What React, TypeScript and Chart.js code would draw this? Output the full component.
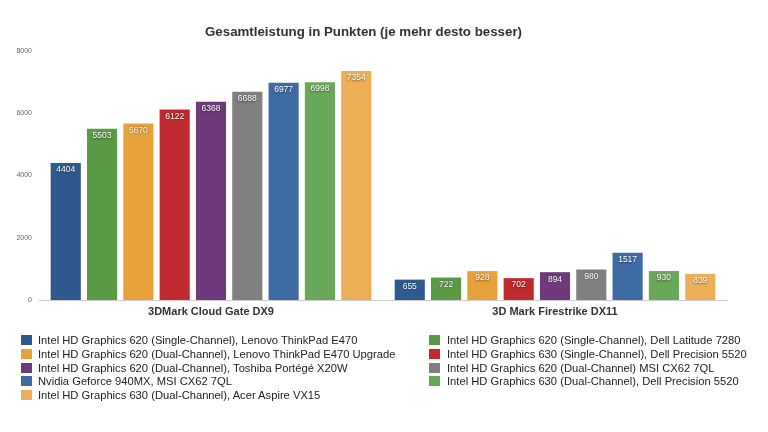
import React, { useEffect, useRef } from "react";
import { Chart, registerables } from "chart.js";

Chart.register(...registerables);

const chartTitle = "Gesamtleistung in Punkten (je mehr desto besser)";
const categories = ["3DMark Cloud Gate DX9", "3D Mark Firestrike DX11"];
const seriesNames = [
  "Intel HD Graphics 620 (Single-Channel), Lenovo ThinkPad E470",
  "Intel HD Graphics 620 (Single-Channel), Dell Latitude 7280",
  "Intel HD Graphics 620 (Dual-Channel), Lenovo ThinkPad E470 Upgrade",
  "Intel HD Graphics 630 (Single-Channel), Dell Precision 5520",
  "Intel HD Graphics 620 (Dual-Channel), Toshiba Portégé X20W",
  "Intel HD Graphics 620 (Dual-Channel) MSI CX62 7QL",
  "Nvidia Geforce 940MX, MSI CX62 7QL",
  "Intel HD Graphics 630 (Dual-Channel), Dell Precision 5520",
  "Intel HD Graphics 630 (Dual-Channel), Acer Aspire VX15",
];
const cloudGateValues = [4404, 5503, 5670, 6122, 6368, 6688, 6977, 6998, 7354];
const firestrikeValues = [655, 722, 928, 702, 894, 980, 1517, 930, 839];
const seriesColors = [
  "#2e5a8f",
  "#5a9a45",
  "#e8a23b",
  "#c0292f",
  "#6e3a7b",
  "#808080",
  "#3f6ba5",
  "#68a858",
  "#ecaf55",
];
const yTicks = [0, 2000, 4000, 6000, 8000];

const FONT = "'Liberation Sans', Arial, Helvetica, sans-serif";

const valueLabelPlugin = {
  id: "valueLabels",
  afterDatasetsDraw(chart: any) {
    const ctx = chart.ctx;
    ctx.save();
    ctx.font = `8.5px ${FONT}`;
    ctx.textAlign = "center";
    ctx.textBaseline = "middle";
    ctx.fillStyle = "#ffffff";
    ctx.shadowColor = "rgba(0,0,0,0.6)";
    ctx.shadowBlur = 2;
    ctx.shadowOffsetX = 0;
    ctx.shadowOffsetY = 0.5;
    chart.data.datasets.forEach((ds: any, i: number) => {
      const meta = chart.getDatasetMeta(i);
      meta.data.forEach((bar: any, j: number) => {
        ctx.fillText(String(ds.data[j]), bar.x, bar.y + 7);
      });
    });
    ctx.restore();
  },
};

export default function App() {
  const canvasRef = useRef<HTMLCanvasElement | null>(null);

  useEffect(() => {
    if (!canvasRef.current) return;
    const chart = new Chart(canvasRef.current, {
      type: "bar",
      data: {
        labels: categories,
        datasets: seriesNames.map((name, i) => ({
          label: name,
          data: [cloudGateValues[i], firestrikeValues[i]],
          backgroundColor: seriesColors[i],
          borderWidth: 0,
          barPercentage: 0.83,
          categoryPercentage: 0.95,
        })),
      },
      options: {
        animation: false,
        responsive: false,
        maintainAspectRatio: false,
        layout: { padding: { left: 0, right: 41, top: 0, bottom: 0 } },
        plugins: {
          legend: { display: false },
          tooltip: { enabled: false },
          title: {
            display: true,
            text: chartTitle,
            color: "#333333",
            font: { family: FONT, size: 13.3, weight: "bold" },
            padding: { top: 24, bottom: 11 },
          },
        },
        scales: {
          x: {
            grid: { display: false, drawTicks: false },
            border: { display: true, color: "#cccccc", width: 1 },
            ticks: {
              color: "#333333",
              font: { family: FONT, size: 11, weight: "bold" },
              padding: 5,
            },
            afterFit: (s: any) => {
              s.height = 132;
            },
          },
          y: {
            min: 0,
            max: 8000,
            grid: { display: false, drawTicks: false },
            border: { display: false },
            afterBuildTicks: (s: any) => {
              s.ticks = yTicks.map((v) => ({ value: v }));
            },
            ticks: {
              color: "#666666",
              font: { family: FONT, size: 7 },
              padding: 7,
              callback: (v: any) => String(v),
            },
            afterFit: (s: any) => {
              s.width = 39;
            },
          },
        },
      },
      plugins: [valueLabelPlugin],
    } as any);
    return () => chart.destroy();
  }, []);

  const rowH = 13.75;
  const firstRow = 340;

  return (
    <div
      style={{
        position: "fixed",
        left: 0,
        top: 0,
        width: 768,
        height: 432,
        background: "#ffffff",
        fontFamily: FONT,
      }}
    >
      <canvas
        ref={canvasRef}
        width={768}
        height={432}
        style={{ position: "absolute", left: 0, top: 0, width: 768, height: 432 }}
      />
      {seriesNames.map((name, i) => {
        const col = i % 2;
        const row = Math.floor(i / 2);
        const sqX = col === 0 ? 21 : 429;
        const txtX = col === 0 ? 38 : 447;
        const cy = firstRow + row * rowH;
        return (
          <React.Fragment key={name}>
            <div
              style={{
                position: "absolute",
                left: sqX,
                top: cy - 5,
                width: 11,
                height: 10,
                background: seriesColors[i],
              }}
            />
            <div
              style={{
                position: "absolute",
                left: txtX,
                top: cy - 7,
                height: 14,
                lineHeight: "14px",
                fontSize: 11.2,
                color: "#222222",
                whiteSpace: "nowrap",
              }}
            >
              {name}
            </div>
          </React.Fragment>
        );
      })}
    </div>
  );
}
